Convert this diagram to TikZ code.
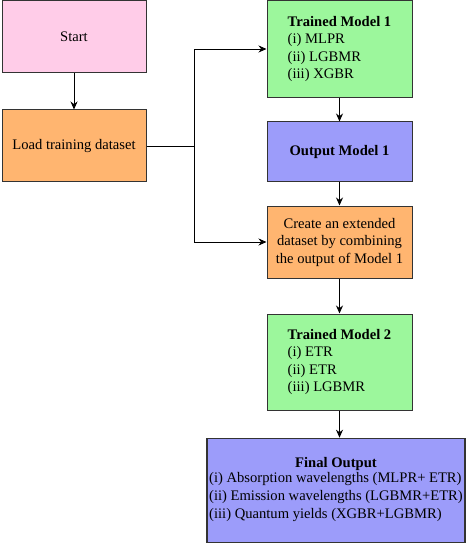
\documentclass[tikz,border=0pt]{standalone}
\usepackage{fontspec}
\setmainfont{Liberation Serif}
\usetikzlibrary{arrows.meta}
\definecolor{pinkbox}{HTML}{FFCCE8}
\definecolor{orangebox}{HTML}{FFB570}
\definecolor{greenbox}{HTML}{9CF79C}
\definecolor{bluebox}{HTML}{9C9CFA}
\begin{document}
\begin{tikzpicture}[x=1pt,y=1pt,
  box/.style={draw=black!80,line width=1pt,rectangle,inner sep=2pt,
    font=\fontsize{14.6}{17.5}\selectfont},
  arr/.style={-{Stealth[length=8pt,width=7pt]},line width=0.9pt}]
        \useasboundingbox (0,0) rectangle (474,-545);
        \node[box,fill=pinkbox,minimum width=144,minimum height=72] (start) at (74,-36.5) {Start};
        \node[box,fill=orangebox,minimum width=144,minimum height=72] (load) at (74,-146) {Load training dataset};
        \node[box,fill=greenbox,minimum width=145,minimum height=97,align=left] (tm1) at (339.5,-49) {\textbf{Trained Model 1}\\(i) MLPR\\(ii) LGBMR\\(iii) XGBR};
        \node[box,fill=bluebox,minimum width=145,minimum height=60] (out1) at (339.5,-152) {\textbf{Output Model 1}};
        \node[box,fill=orangebox,minimum width=145,minimum height=72,align=center] (ext) at (339.5,-242) {Create an extended\\dataset by combining\\the output of Model 1};
        \node[box,fill=greenbox,minimum width=145,minimum height=96,align=left] (tm2) at (339.5,-362) {\textbf{Trained Model 2}\\(i) ETR\\(ii) ETR\\(iii) LGBMR};
        \node[box,fill=bluebox,minimum width=258,minimum height=104,align=center,line width=1.6pt,
          font=\fontsize{14.6}{18}\selectfont] (final) at (336,-490.5) {\textbf{Final Output}\\[-1pt]\begin{tabular}{@{}l@{}}(i) Absorption wavelengths (MLPR+ ETR)\\(ii) Emission wavelengths (LGBMR+ETR)\\(iii) Quantum yields (XGBR+LGBMR)\end{tabular}};
        \coordinate (split) at (194,-146);
        \draw[arr] (start) -- (load);
        \draw[line width=0.9pt] (load) -- (split);
        \draw[arr] (split) |- (tm1);
        \draw[arr] (split) |- (ext);
        \draw[arr] (tm1) -- (out1);
        \draw[arr] (out1) -- (ext);
        \draw[arr] (ext) -- (tm2);
        \draw[arr] (tm2) -- (final.north -| tm2);
\end{tikzpicture}
\end{document}
